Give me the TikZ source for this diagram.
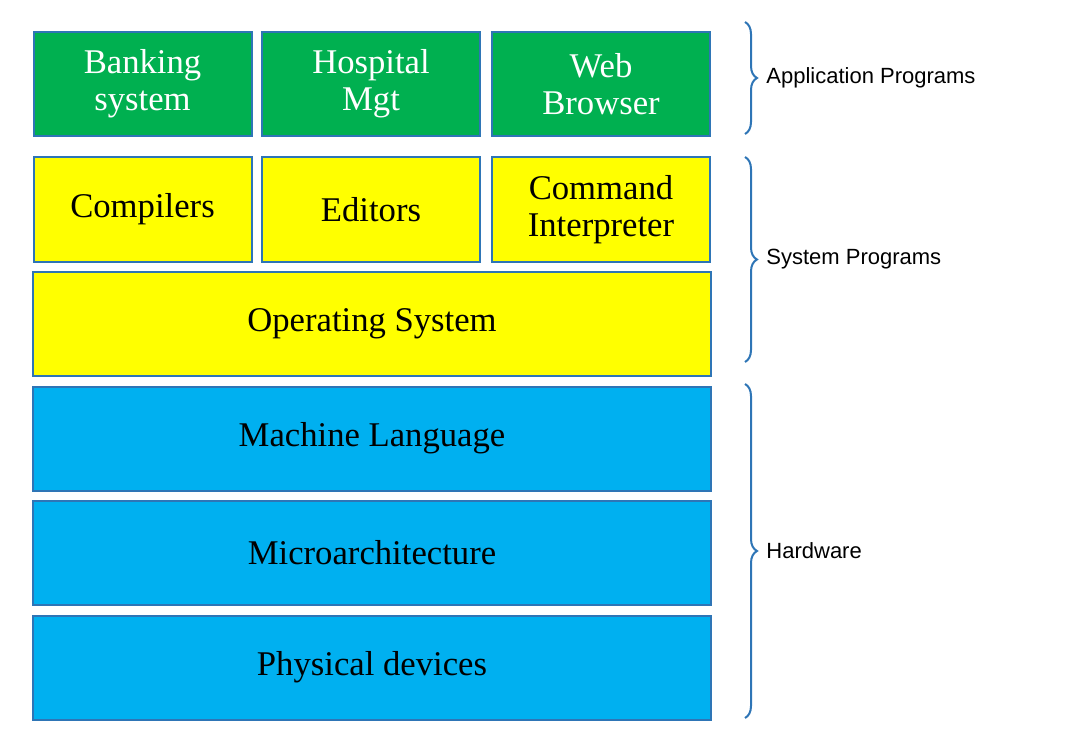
\documentclass[tikz,border=0pt]{standalone}
\usepackage{fontspec}
\setmainfont{Liberation Serif}
\newfontfamily\labelfont{Liberation Sans}
\usetikzlibrary{decorations.pathreplacing}
\definecolor{boxgreen}{HTML}{00B050}
\definecolor{boxyellow}{HTML}{FFFF00}
\definecolor{boxblue}{HTML}{00B0F0}
\definecolor{edgeblue}{HTML}{2E75B6}
\begin{document}
\begin{tikzpicture}[x=0.75pt,y=-0.75pt,
  box/.style={draw=edgeblue, line width=1.5pt, inner sep=0pt, align=center,
    font=\fontsize{26}{28}\selectfont},
  small/.style={box, minimum width=218*0.75pt, minimum height=104*0.75pt},
  wide/.style={box, minimum width=678*0.75pt, minimum height=104*0.75pt},
  brace/.style={draw=edgeblue, line width=1.5pt, decorate,
    decoration={brace, amplitude=9pt}},
  lbl/.style={anchor=west, font=\labelfont\fontsize{16.5}{18}\selectfont}]
\useasboundingbox (0,0) rectangle (1076,749);
% application programs
\node (bank) [small, fill=boxgreen, text=white] at (142.5,84) {Banking\\system};
\node (hosp) [small, fill=boxgreen, text=white] at (371,84) {Hospital\\Mgt};
\node (web)  [small, fill=boxgreen, text=white] at (601,84) {Web\\Browser};
% system programs
\node (comp) [small, fill=boxyellow] at (142.5,209.5) {Compilers};
\node (edit) [small, fill=boxyellow] at (371,209.5) {Editors};
\node (cmd)  [small, fill=boxyellow] at (601,209.5) {Command\\Interpreter};
\node (os)   [wide, fill=boxyellow] at (372,323.5) {Operating System};
% hardware
\node (ml)   [wide, fill=boxblue] at (372,438.5) {Machine Language};
\node (ma)   [wide, fill=boxblue] at (372,553) {Microarchitecture};
\node (pd)   [wide, fill=boxblue] at (372,667.5) {Physical devices};
% braces
\coordinate (a1) at (745,22);  \coordinate (a2) at (745,134);
\coordinate (s1) at (745,157); \coordinate (s2) at (745,362);
\coordinate (h1) at (745,384); \coordinate (h2) at (745,718);
\draw[brace] (a1) -- (a2) node (appl) [lbl, midway, xshift=12pt] {Application Programs};
\draw[brace] (s1) -- (s2) node (sysl) [lbl, midway, xshift=12pt] {System Programs};
\draw[brace] (h1) -- (h2) node (hwl) [lbl, midway, xshift=12pt] {Hardware};
\end{tikzpicture}
\end{document}
